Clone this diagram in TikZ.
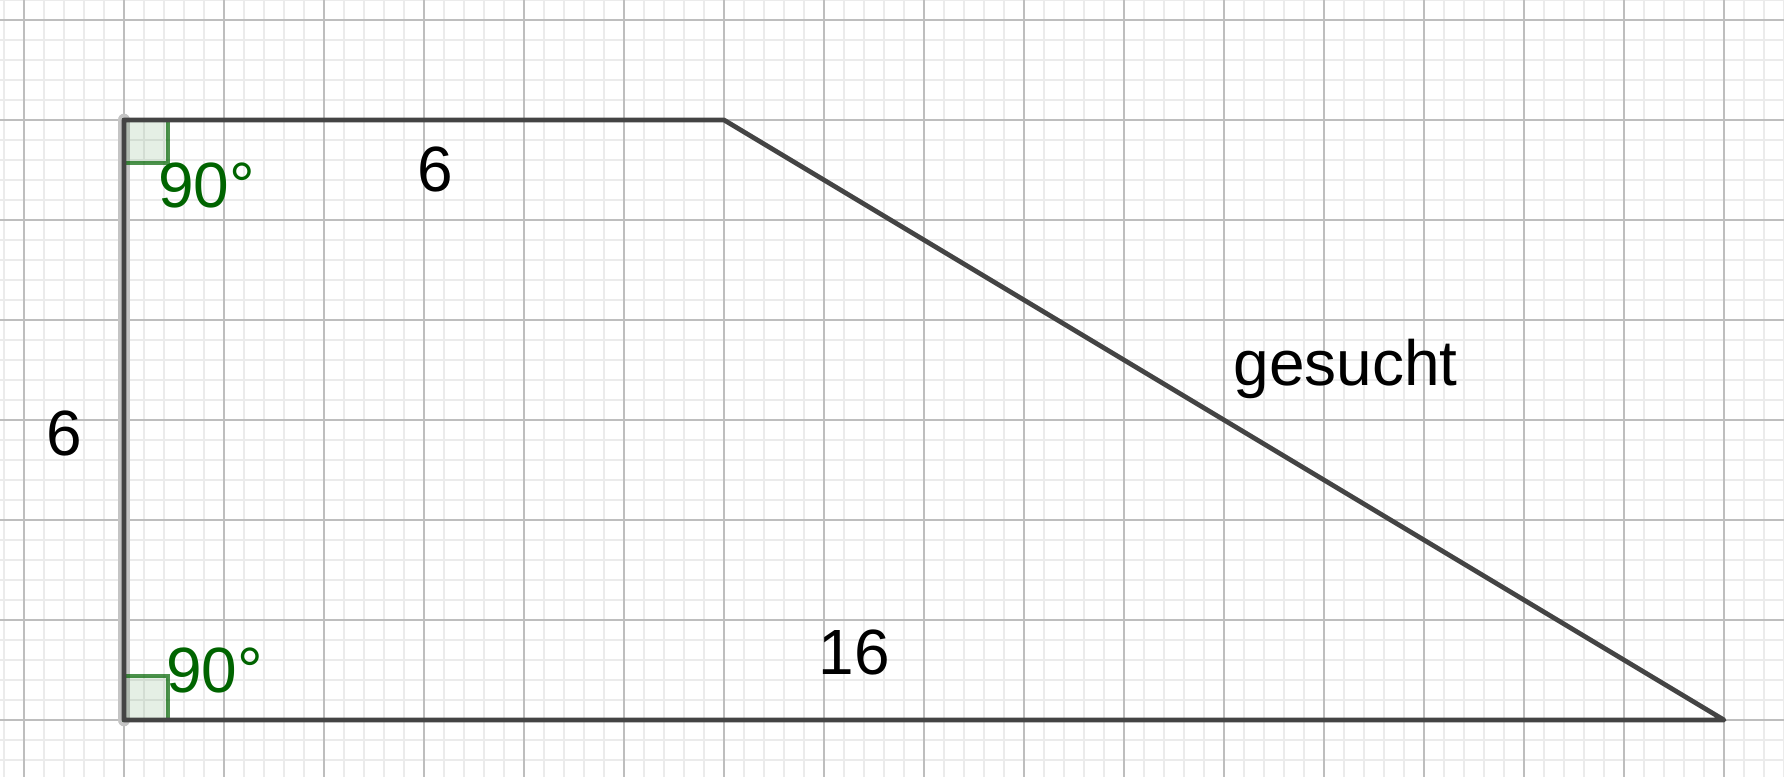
\documentclass[tikz,border=0pt]{standalone}
\usepackage{fontspec}
\setmainfont{Liberation Sans}
\definecolor{minorgrid}{HTML}{EBEBEB}
\definecolor{majorgrid}{HTML}{BEBEBE}
\definecolor{segcol}{HTML}{444444}
\definecolor{halocol}{HTML}{C4C4C4}
\definecolor{anglegreen}{RGB}{0,100,0}
\tikzset{
  minorline/.style={draw=minorgrid, line width=0.45pt},
  majorline/.style={draw=majorgrid, line width=0.6pt},
  seg/.style={draw=segcol, line width=1.35pt, line join=round, line cap=round},
  halo/.style={draw=halocol, line width=3.6pt, line cap=round},
  rightangle/.style={draw=anglegreen, draw opacity=0.7, fill=anglegreen, fill opacity=0.1, line width=1.05pt},
  lbl/.style={inner sep=0pt, anchor=base west, font=\fontsize{18.2}{21}\selectfont},
  anglelbl/.style={lbl, text=anglegreen}
}
\begin{document}
\begin{tikzpicture}
\useasboundingbox (-1.24,-0.57) rectangle (16.60,7.20);
% grid
\draw[minorline] (-1.24,-0.57) grid[step=0.2] (16.60,7.20);
\draw[majorline] (-1.24,-0.57) grid[step=1] (16.60,7.20);
% vertices
\coordinate (A) at (0,0);
\coordinate (B) at (16,0);
\coordinate (C) at (6,6);
\coordinate (D) at (0,6);
% highlight of left side
\draw[halo] (A) -- (D);
% right angle marks
\draw[rightangle] (D) rectangle ++(0.44,-0.43);
\draw[rightangle] (A) rectangle ++(0.44,0.44);
% trapezoid
\draw[seg] (A) -- (B) -- (C) -- (D) -- cycle;
% labels
\node[lbl] (ltop) at (2.93,5.28) {6};
\node[lbl] (lleft) at (-0.785,2.64) {6};
\node[lbl] (lbottom) at (6.94,0.45) {16};
\node[lbl] (lslant) at (11.09,3.34) {gesucht};
\node[anglelbl] (atop) at (0.335,5.12) {90°};
\node[anglelbl] (abottom) at (0.415,0.27) {90°};
\end{tikzpicture}
\end{document}
